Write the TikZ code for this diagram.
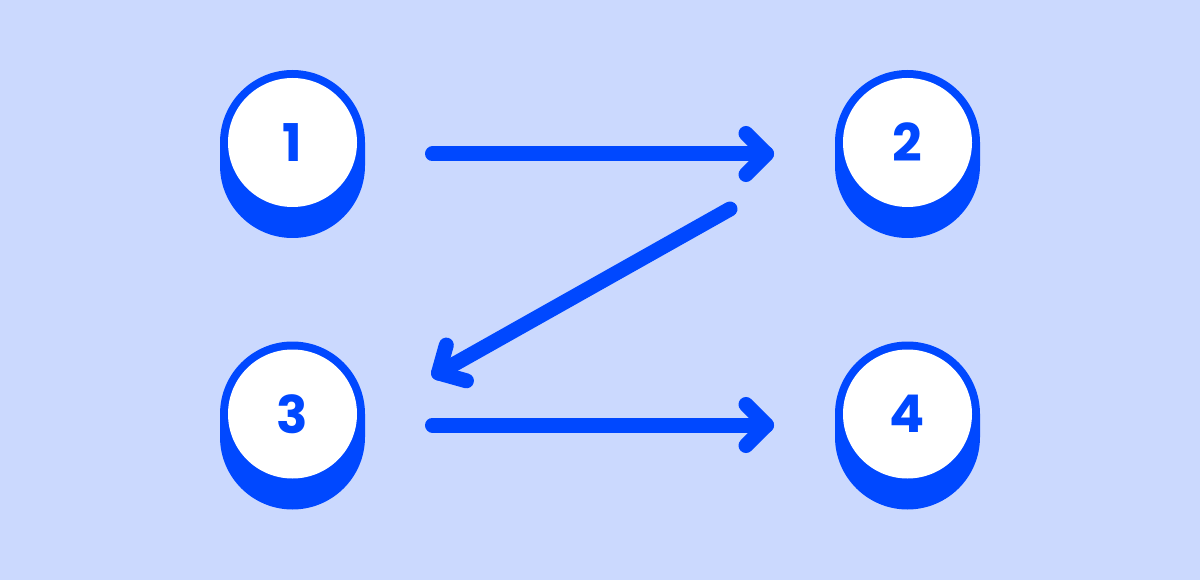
\documentclass[tikz,border=0pt]{standalone}
\usepackage{fontspec}
\newfontfamily\numfont{Poppins}
\usetikzlibrary{calc}
\definecolor{bgblue}{HTML}{CBD9FE}
\definecolor{mainblue}{HTML}{0048FF}
\tikzset{
  base/.style={rectangle, fill=mainblue, draw=none, inner sep=0pt,
    minimum width=145pt, minimum height=168pt, rounded corners=72.5pt},
  face/.style={circle, fill=white, draw=none, inner sep=0pt, minimum size=129pt,
    font=\numfont\bfseries\fontsize{52}{52}\selectfont, text=mainblue},
  conn/.style={draw=mainblue, line width=15pt, line cap=round, line join=round}
}
\begin{document}
\begin{tikzpicture}[x=1pt,y=-1pt]
\fill[bgblue] (0,0) rectangle (1200,580);
\useasboundingbox (0,0) rectangle (1200,580);
% bases
\node[base] (b1) at (292.5,154) {};
\node[base] (b2) at (907.5,154) {};
\node[base] (b3) at (292.5,425.5) {};
\node[base] (b4) at (907.5,425.5) {};
% faces
\node[face] (n1) at (292.5,142.5) {1};
\node[face] (n2) at (907.5,142.5) {2};
\node[face] (n3) at (292.5,414) {3};
\node[face] (n4) at (907.5,414) {4};
% connector ends
\coordinate (a1s) at (432.5,154);
\coordinate (a1e) at (766.5,154);
\coordinate (a2s) at (730,209);
\coordinate (a2e) at (438.5,373);
\coordinate (a3s) at (432.5,425);
\coordinate (a3e) at (766.5,425);
\foreach \s/\e in {a1s/a1e, a2s/a2e, a3s/a3e}{
  \draw[conn] (\s) -- (\e);
  \draw[conn] ($(\e)!29pt!45:(\s)$) -- (\e) -- ($(\e)!29pt!-45:(\s)$);
}
\end{tikzpicture}
\end{document}
